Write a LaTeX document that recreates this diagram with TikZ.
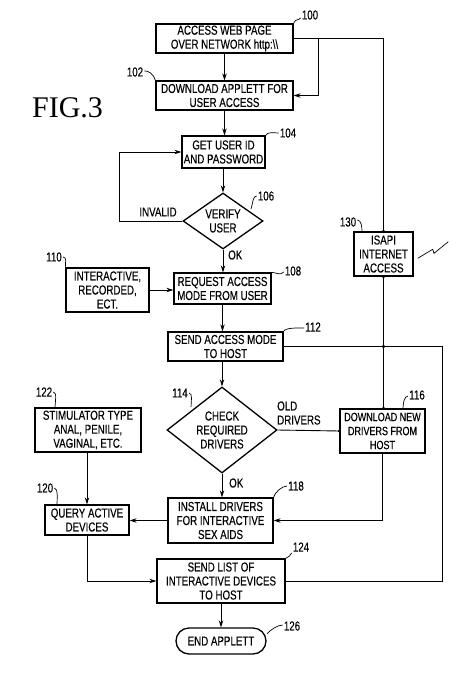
\documentclass[tikz,border=0pt]{standalone}
\usepackage{fontspec}
\setmainfont[FakeStretch=0.75,FakeBold=0.3]{Liberation Sans}
\newfontfamily\figfont{Liberation Serif}
\usetikzlibrary{shapes.geometric,arrows.meta}
\begin{document}
\begin{tikzpicture}[x=1pt,y=-1pt,
  font=\fontsize{13pt}{14pt}\selectfont,
  box/.style={draw, line width=1.3pt, inner sep=0pt, align=center},
  dia/.style={draw, diamond, line width=1.3pt, inner sep=0pt},
  ln/.style={line width=0.9pt},
  arr/.style={line width=0.9pt, -{Stealth[length=7pt,width=4.5pt]}},
  lead/.style={line width=0.7pt},
  num/.style={inner sep=0pt},
  lbl/.style={inner sep=0pt, align=left}]
\useasboundingbox (0,0) rectangle (474,675);

\node[inner sep=0pt] (fig) at (67.5,108) {\figfont\fontsize{30pt}{30pt}\selectfont FIG.3};

% boxes
\node[box, minimum width=137pt, minimum height=29pt] (n100) at (224.5,38.5) {ACCESS WEB PAGE\\OVER NETWORK http:\textbackslash\textbackslash};
\node[box, minimum width=137pt, minimum height=29pt] (n102) at (224.5,95.5) {DOWNLOAD APPLETT FOR\\USER ACCESS};
\node[box, minimum width=83pt, minimum height=32pt] (n104) at (223.5,152) {GET USER ID\\AND PASSWORD};
\node[dia, minimum width=80pt, minimum height=56pt] (n106) at (223,221) {};
\node[align=center, inner sep=0pt] (t106) at (n106) {VERIFY\\USER};
\node[box, minimum width=83pt, minimum height=44pt] (n110) at (107.5,290) {INTERACTIVE,\\RECORDED,\\ECT.};
\node[box, minimum width=97pt, minimum height=31pt] (n108) at (222.5,288.5) {REQUEST ACCESS\\MODE FROM USER};
\node[box, minimum width=115pt, minimum height=29pt] (n112) at (225.5,346.5) {SEND ACCESS MODE\\TO HOST};
\node[box, minimum width=59pt, minimum height=44pt] (n130) at (383.5,254) {ISAPI\\INTERNET\\ACCESS};
\node[dia, minimum width=110pt, minimum height=86pt] (n114) at (222,430) {};
\node[align=center, inner sep=0pt] (t114) at (n114) {CHECK\\REQUIRED\\DRIVERS};
\node[box, minimum width=85pt, minimum height=44pt, font=\fontsize{12pt}{14pt}\selectfont] (n116) at (382.5,431) {DOWNLOAD NEW\\DRIVERS FROM\\HOST};
\node[box, minimum width=106pt, minimum height=44pt] (n122) at (88,430) {STIMULATOR TYPE\\ANAL, PENILE,\\VAGINAL, ETC.};
\node[box, minimum width=84pt, minimum height=30pt] (n120) at (87,520) {QUERY ACTIVE\\DEVICES};
\node[box, minimum width=105pt, minimum height=45pt] (n118) at (220.5,520.5) {INSTALL DRIVERS\\FOR INTERACTIVE\\SEX AIDS};
\node[box, minimum width=128pt, minimum height=44pt] (n124) at (221,581) {SEND LIST OF\\INTERACTIVE DEVICES\\TO HOST};
\node[box, rounded corners=13pt, minimum width=90pt, minimum height=26pt] (n126) at (221,641) {END APPLETT};

% reference numerals
\node[num] (l100) at (310,15) {100};
\node[num] (l102) at (135,72) {102};
\node[num] (l104) at (288,133) {104};
\node[num] (l106) at (266,196) {106};
\node[num] (l110) at (54,257) {110};
\node[num] (l108) at (293,271) {108};
\node[num] (l112) at (313,327) {112};
\node[num] (l130) at (348,222) {130};
\node[num] (l114) at (180,393) {114};
\node[num] (l116) at (417,395) {116};
\node[num] (l122) at (44,392) {122};
\node[num] (l120) at (45,488) {120};
\node[num] (l118) at (296,486) {118};
\node[num] (l124) at (301,547) {124};
\node[num] (l126) at (292,626) {126};

% leaders
\draw[lead] (l100.west) ++(-1,3) .. controls +(-3,3) and +(2,-5) .. (n100.north east);
\draw[lead] (l102.east) ++(1,-1) .. controls +(3,-1) and +(-1,-6) .. (n102.north west);
\draw[lead] (l104.west) ++(-1,0) .. controls +(-4,0) and +(2,-4) .. (n104.north east);
\draw[lead] (l106.west) ++(-1,0) .. controls +(-4,0) and +(2,-6) .. (251,209);
\draw[lead] (l110.east) ++(1,0) .. controls +(4,0) and +(0,-5) .. (n110.north west);
\draw[lead] (l108.west) ++(-1,1) .. controls +(-3,4) and +(4,0) .. (n108.north east);
\draw[lead] (l112.west) ++(-1,1) .. controls +(-5,0) and +(2,-4) .. (n112.north east);
\draw[lead] (l130.east) ++(1,-2) .. controls +(4,0) and +(0,-5) .. (362,232);
\draw[lead] (l114.east) ++(1,0) .. controls +(4,0) and +(0,-5) .. (191,407);
\draw[lead] (l116.west) ++(-1,1) .. controls +(-4,0) and +(0,-5) .. (403,409);
\draw[lead] (l122.east) ++(1,0) .. controls +(4,0) and +(0,-5) .. (55,408);
\draw[lead] (l120.east) ++(1,0) .. controls +(4,0) and +(0,-5) .. (57,505);
\draw[lead] (l118.west) ++(-1,0) .. controls +(-5,0) and +(1,-5) .. (n118.north east);
\draw[lead] (l124.west) ++(-1,6) .. controls +(-2,3) and +(3,-1) .. (n124.north east);
\draw[lead] (l126.west) ++(-1,-1) .. controls +(-5,0) and +(3,-4) .. (267,634);

% connectors
\coordinate (j1) at (318,38.5);
\draw[ln] (n100.east) -| (n130.north);
\draw[arr] (j1) |- (n102.east);
\draw[arr] (n100.south) -- (n102.north);
\draw[arr] (n102.south) -- (n102.south |- n104.north);
\draw[arr] (n104.south -| n106.north) -- (n106.north);
\draw[arr] (n106.west) -- ++(-63,0) |- (n104.west);
\node[lbl] (tinv) at (158,212) {INVALID};
\draw[arr] (n106.south) -- (n106.south |- n108.north);
\node[lbl, anchor=west] (tok1) at (228,255) {OK};
\draw[arr] (n110.east) -- (n110.east -| n108.west);
\draw[arr] (n108.south) -- (n108.south |- n112.north);
\coordinate (c2) at (442,346.5);
\coordinate (j2) at (383.5,346.5);
\draw[ln] (n112.east) -- (c2) |- (n124.east);
\draw[ln] (n130.south) -- (n130.south |- n116.north);
\draw[arr] (n114.north |- n112.south) -- (n114.north);
\draw[ln] (n114.east) -- (n116.west);
\node[lbl, anchor=west] (told) at (277,413) {OLD\\DRIVERS};
\draw[arr] (n114.south) -- (n114.south |- n118.north);
\node[lbl, anchor=west] (tok2) at (229,483) {OK};
\draw[arr] (n116.south) |- (n118.east);
\draw[arr] (n118.west) -- (n118.west -| n120.east);
\draw[arr] (n122.south -| n120.north) -- (n120.north);
\draw[arr] (n120.south) |- (n124.west);
\draw[arr] (n124.south) -- (n126.north);

% junction dots
\fill (n130.north) circle (1.8pt);
\fill (n130.south) circle (1.8pt);
\fill (j2) circle (1.8pt);
\fill (n130.south |- n116.north) circle (1.8pt);
\fill (n116.west) circle (1.8pt);

% wireless symbol
\draw[lead] (417.7,258.3) -- (432.7,249.3) -- (434,253.3) -- (448.3,241.7);
\end{tikzpicture}
\end{document}
